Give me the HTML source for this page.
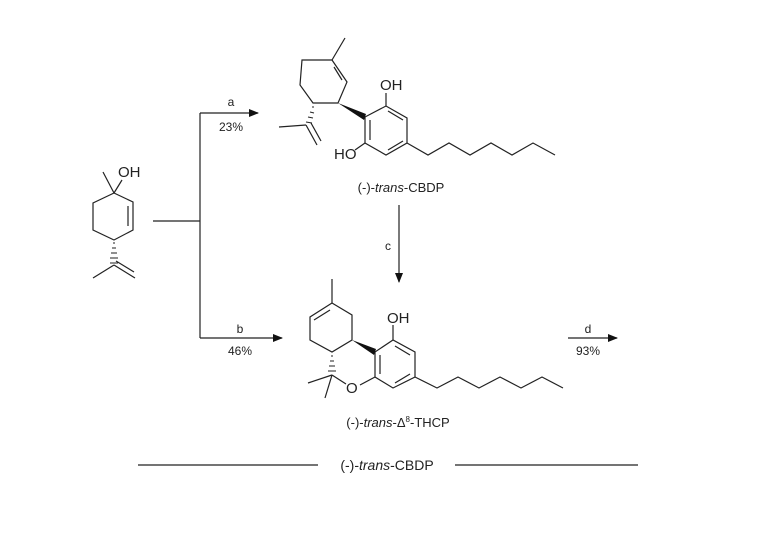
<!DOCTYPE html>
<html><head><style>html,body{margin:0;padding:0;background:#fff}svg{display:block}text{font-family:"Liberation Sans",sans-serif;fill:#222}</style></head><body>
<svg width="768" height="533" viewBox="0 0 768 533" xmlns="http://www.w3.org/2000/svg">
<defs>
<marker id="ah" markerWidth="10" markerHeight="8" refX="9" refY="4" orient="auto" markerUnits="userSpaceOnUse"><path d="M0,0 L10,4 L0,8 Z" fill="#111"/></marker>
</defs>
<g stroke="#222" stroke-width="1.2" fill="none">
<polyline points="114,193 133,202 133,230 114,240 93,230 93,203 114,193"/>
<line x1="128" y1="206" x2="128" y2="226"/>
<line x1="114" y1="193" x2="103" y2="172"/>
<line x1="114" y1="193" x2="122" y2="180"/>
<line x1="114" y1="265" x2="93" y2="278"/>
<line x1="114" y1="265" x2="135" y2="278"/>
<line x1="116" y1="261" x2="134" y2="272"/>
<line x1="153" y1="221" x2="200" y2="221"/>
<line x1="200" y1="113" x2="200" y2="338"/>
<line x1="200" y1="113" x2="258" y2="113" marker-end="url(#ah)"/>
<line x1="200" y1="338" x2="282" y2="338" marker-end="url(#ah)"/>
<line x1="399" y1="205" x2="399" y2="282" marker-end="url(#ah)"/>
<line x1="568" y1="338" x2="617" y2="338" marker-end="url(#ah)"/>
<polyline points="332,60 302,60 300,85 313,103 338,103 347,82 332,60"/>
<line x1="334" y1="67" x2="342" y2="80"/>
<line x1="332" y1="60" x2="345" y2="38"/>
<line x1="306" y1="125" x2="279" y2="127"/>
<line x1="306" y1="125" x2="317" y2="145"/>
<line x1="311" y1="123" x2="321" y2="141"/>
<polygon points="365,117 386,106 407,118 407,143 386,155 365,143"/>
<line x1="370" y1="120" x2="370" y2="140"/>
<line x1="388" y1="111" x2="403" y2="120"/>
<line x1="388" y1="150" x2="403" y2="141"/>
<line x1="386" y1="106" x2="386" y2="93"/>
<line x1="365" y1="143" x2="355" y2="150"/>
<polyline points="407,143 428,155 449,143 470,155 491,143 512,155 533,143 555,155"/>
<polyline points="332,303 352,315 352,340 332,352 310,340 310,317 332,303"/>
<line x1="314" y1="320" x2="330" y2="310"/>
<line x1="332" y1="303" x2="332" y2="279"/>
<line x1="332" y1="375" x2="308" y2="383"/>
<line x1="332" y1="375" x2="325" y2="398"/>
<line x1="332" y1="375" x2="346" y2="384"/>
<line x1="360" y1="385" x2="375" y2="377"/>
<polygon points="375,352 393,340 415,352 415,377 393,388 375,377"/>
<line x1="380" y1="355" x2="380" y2="374"/>
<line x1="395" y1="346" x2="410" y2="355"/>
<line x1="395" y1="383" x2="410" y2="374"/>
<line x1="393" y1="340" x2="393" y2="325"/>
<polyline points="415,377 437,388 458,377 479,388 500,377 521,388 542,377 563,388"/>
<line x1="138" y1="465" x2="318" y2="465"/>
<line x1="455" y1="465" x2="638" y2="465"/>
</g>
<polygon points="338,103 366,114 364,120" fill="#111"/>
<polygon points="352,340 376,349 374,355" fill="#111"/>
<g stroke="#222" stroke-width="1">
<line x1="113" y1="243" x2="115" y2="243"/><line x1="112" y1="248" x2="116" y2="248"/><line x1="111" y1="253" x2="117" y2="253"/><line x1="110" y1="258" x2="118" y2="258"/><line x1="110" y1="263" x2="118" y2="263"/>
<line x1="312" y1="107" x2="314" y2="107"/><line x1="310" y1="112" x2="314" y2="113"/><line x1="308" y1="117" x2="313" y2="118"/><line x1="306" y1="122" x2="312" y2="123"/>
<line x1="331" y1="356" x2="333" y2="356"/><line x1="330" y1="361" x2="334" y2="361"/><line x1="329" y1="366" x2="335" y2="366"/><line x1="328" y1="371" x2="336" y2="371"/>
</g>
<g font-size="15">
<text x="118" y="177">OH</text>
<text x="380" y="90">OH</text>
<text x="334" y="159">HO</text>
<text x="387" y="323">OH</text>
<text x="346" y="393">O</text>
</g>
<g font-size="12" text-anchor="middle">
<text x="231" y="106">a</text>
<text x="231" y="131">23%</text>
<text x="240" y="333">b</text>
<text x="240" y="355">46%</text>
<text x="388" y="250">c</text>
<text x="588" y="333">d</text>
<text x="588" y="355">93%</text>
</g>
<g font-size="13" text-anchor="middle">
<text x="401" y="192">(-)-<tspan font-style="italic">trans</tspan>-CBDP</text>
<text x="398" y="427">(-)-<tspan font-style="italic">trans</tspan>-Δ<tspan font-size="8" dy="-5">8</tspan><tspan dy="5">-THCP</tspan></text>
<text x="387" y="470" font-size="14">(-)-<tspan font-style="italic">trans</tspan>-CBDP</text>
</g>
</svg>
</body></html>
